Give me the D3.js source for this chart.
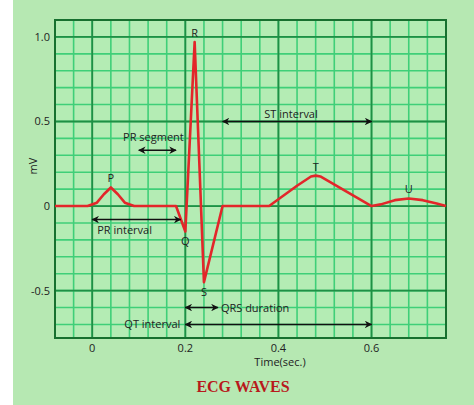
<!DOCTYPE html>
<html><head><meta charset="utf-8">
<script src="https://cdn.jsdelivr.net/npm/d3@7"></script>
<style>body{margin:0;background:#fff}</style>
</head><body><div id="chart"></div>
<script>
// ECG trace: time (s), voltage (mV)
const times = [-0.08,-0.01,0.01,0.025,0.04,0.055,0.07,0.09,0.18,0.2,0.22,0.24,0.28,0.38,0.40,0.44,0.47,0.48,0.49,0.6,0.62,0.65,0.68,0.71,0.74,0.76];
const volts = [0,0,0.02,0.07,0.11,0.07,0.02,0,0,-0.15,0.97,-0.45,0,0,0.04,0.12,0.175,0.18,0.175,0,0.01,0.035,0.045,0.035,0.015,0];
const xTicks = [0, 0.2, 0.4, 0.6];
const yTicks = [-0.5, 0, 0.5, 1.0];
const waveLabels = [
  {t:"P", x:0.04, y:0.11}, {t:"Q", x:0.2, y:-0.15}, {t:"R", x:0.22, y:0.97},
  {t:"S", x:0.24, y:-0.45}, {t:"T", x:0.48, y:0.18}, {t:"U", x:0.68, y:0.045}
];
const intervals = [
  {t:"PR segment", x1:0.1, x2:0.18, y:0.33, side:"above"},
  {t:"ST interval", x1:0.28, x2:0.6, y:0.5, side:"above"},
  {t:"PR interval", x1:0, x2:0.19, y:-0.08, side:"below"},
  {t:"QRS duration", x1:0.2, x2:0.27, y:-0.6, side:"right"},
  {t:"QT interval", x1:0.2, x2:0.6, y:-0.7, side:"left"}
];

const W = 474, H = 405;
const svg = d3.select("#chart").append("svg").attr("width", W).attr("height", H)
  .style("font-family", "'Open Sans', sans-serif");
svg.append("rect").attr("x", 13).attr("y", 0).attr("width", W - 13).attr("height", H).attr("fill", "#b6e8b2");

const x = d3.scaleLinear().domain([-0.08, 0.76]).range([55, 446]);
const y = d3.scaleLinear().domain([-0.78, 1.1]).range([338, 20]);

svg.append("rect").attr("x", 55).attr("y", 20).attr("width", 391).attr("height", 318).attr("fill", "#b4ecb4");

const g = svg.append("g");
const vMinor = d3.range(-0.08, 0.7601, 0.04);
const hMinor = d3.range(-0.7, 1.101, 0.1);
g.selectAll(".vm").data(vMinor).join("line")
  .attr("x1", d => x(d)).attr("x2", d => x(d)).attr("y1", 20).attr("y2", 338)
  .attr("stroke", "#3fcf78").attr("stroke-width", 1.6);
g.selectAll(".hm").data(hMinor).join("line")
  .attr("y1", d => y(d)).attr("y2", d => y(d)).attr("x1", 55).attr("x2", 446)
  .attr("stroke", "#3fcf78").attr("stroke-width", 1.6);
g.selectAll(".vM").data(xTicks).join("line")
  .attr("x1", d => x(d)).attr("x2", d => x(d)).attr("y1", 20).attr("y2", 338)
  .attr("stroke", "#1f8f45").attr("stroke-width", 1.8);
g.selectAll(".hM").data(yTicks).join("line")
  .attr("y1", d => y(d)).attr("y2", d => y(d)).attr("x1", 55).attr("x2", 446)
  .attr("stroke", "#1f8f45").attr("stroke-width", 1.8);
svg.append("rect").attr("x", 55).attr("y", 20).attr("width", 391).attr("height", 318)
  .attr("fill", "none").attr("stroke", "#17702f").attr("stroke-width", 2);

// tick labels
svg.selectAll(".xt").data(xTicks).join("text")
  .attr("x", d => x(d)).attr("y", 352).attr("text-anchor", "middle")
  .attr("font-size", 11).attr("fill", "#222").text(d => d);
svg.selectAll(".yt").data(yTicks).join("text")
  .attr("x", 50).attr("y", d => y(d) + 4).attr("text-anchor", "end")
  .attr("font-size", 11).attr("fill", "#222").text(d => d === 0 ? "0" : d.toFixed(1));
svg.append("text").attr("x", 280).attr("y", 366).attr("text-anchor", "middle")
  .attr("font-size", 11).attr("fill", "#222").text("Time(sec.)");
svg.append("text").attr("transform", "translate(37,166) rotate(-90)").attr("text-anchor", "middle")
  .attr("font-size", 11).attr("fill", "#222").text("mV");

// ECG line
const pts = times.map((t, i) => [t, volts[i]]);
svg.append("path").datum(pts)
  .attr("fill", "none").attr("stroke", "#e3262a").attr("stroke-width", 2.6)
  .attr("stroke-linejoin", "round")
  .attr("d", d3.line().x(d => x(d[0])).y(d => y(d[1])));

// wave labels
svg.selectAll(".wl").data(waveLabels).join("text")
  .attr("x", d => x(d.x)).attr("y", d => d.y >= 0 ? y(d.y) - 5 : y(d.y) + 14)
  .attr("text-anchor", "middle").attr("font-size", 11).attr("fill", "#222").text(d => d.t);

// interval arrows
const defs = svg.append("defs");
defs.append("marker").attr("id", "ah").attr("viewBox", "0 0 10 10").attr("refX", 9).attr("refY", 5)
  .attr("markerWidth", 5).attr("markerHeight", 5).attr("orient", "auto-start-reverse")
  .append("path").attr("d", "M0,0 L10,5 L0,10 L3,5 Z").attr("fill", "#111");
intervals.forEach(d => {
  svg.append("line").attr("x1", x(d.x1)).attr("x2", x(d.x2)).attr("y1", y(d.y)).attr("y2", y(d.y))
    .attr("stroke", "#111").attr("stroke-width", 1.5)
    .attr("marker-start", "url(#ah)").attr("marker-end", "url(#ah)");
  const t = svg.append("text").attr("font-size", 11).attr("fill", "#222").text(d.t);
  if (d.side === "above") t.attr("x", (x(d.x1) + x(d.x2)) / 2 - (d.x1 < 0.2 ? 4 : 6)).attr("y", y(d.y) - (d.x1 < 0.2 ? 9 : 3)).attr("text-anchor", "middle");
  if (d.side === "below") t.attr("x", x(d.x1) + 5).attr("y", y(d.y) + 14);
  if (d.side === "right") t.attr("x", x(d.x2) + 3).attr("y", y(d.y) + 4);
  if (d.side === "left") t.attr("x", x(d.x1) - 5).attr("y", y(d.y) + 4).attr("text-anchor", "end");
});

svg.append("text").attr("x", 243).attr("y", 392).attr("text-anchor", "middle")
  .attr("font-family", "'Liberation Serif', serif").attr("font-weight", "bold")
  .attr("font-size", 16).attr("fill", "#b8191c").text("ECG WAVES");
</script></body></html>
